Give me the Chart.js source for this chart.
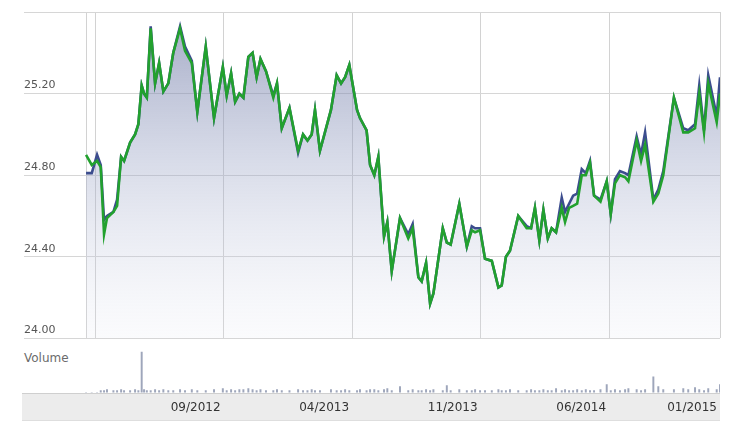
<!DOCTYPE html>
<html>
<head>
<meta charset="utf-8">
<script src="https://cdn.jsdelivr.net/npm/chart.js@4/dist/chart.umd.min.js"></script>
<style>
  body { margin: 0; background: #fff; width: 740px; height: 422px; overflow: hidden; position: relative; font-family: "DejaVu Sans", sans-serif; }
  canvas { position: absolute; left: 0; }
  #precos { top: 0; }
  #volume { top: 345px; }
  #faixa { position: absolute; left: 22px; top: 393px; width: 698px; height: 26px; background: #ececec; border-top: 1px solid #cfcfcf; border-bottom: 1px solid #dedede; }
  #rotulo { position: absolute; left: 24px; top: 351px; font-size: 12px; color: #6b6b6b; }
</style>
</head>
<body>
<div id="faixa"></div>
<div id="rotulo">Volume</div>
<canvas id="precos" width="740" height="345"></canvas>
<canvas id="volume" width="740" height="80"></canvas>
<script>
// months since 01/2012 (decimal) for each reading
const meses = [0.51,0.82,1.11,1.31,1.49,1.65,2.00,2.20,2.42,2.58,
  2.91,3.18,3.36,3.54,3.67,3.82,4.03,4.27,4.49,4.72,
  4.99,5.26,5.63,5.90,6.27,6.57,7.03,7.48,7.96,8.17,
  8.41,8.63,8.86,9.08,9.35,9.58,9.80,10.01,10.31,10.71,
  10.91,11.17,11.59,12.06,12.33,12.57,12.80,12.98,13.25,13.85,
  14.16,14.40,14.62,14.85,15.27,15.43,15.79,15.98,16.21,16.43,
  16.74,16.92,17.16,17.61,18.06,18.30,18.61,18.79,19.03,19.25,
  19.43,19.94,20.16,20.37,20.84,21.25,21.52,21.70,21.97,22.24,
  22.61,22.97,23.15,23.38,23.60,24.05,24.51,24.75,24.96,25.20,
  25.42,25.66,25.87,26.11,26.42,26.60,26.82,27.04,27.26,27.51,
  27.73,27.96,28.18,28.53,28.87,29.09,29.32,29.59,29.87,30.05,
  30.50,30.74,30.96,31.41,31.68,31.95,32.53,33.04,33.31,33.68,
  33.91,34.17,34.40,34.86,35.04];

const serieVerde = [24.90,24.85,24.87,24.84,24.51,24.59,24.62,24.65,24.89,24.87,
  24.96,25.00,25.05,25.24,25.20,25.18,25.52,25.25,25.35,25.21,
  25.25,25.40,25.52,25.41,25.35,25.11,25.43,25.08,25.33,25.19,
  25.30,25.16,25.20,25.18,25.38,25.40,25.28,25.37,25.31,25.18,
  25.25,25.03,25.13,24.92,25.00,24.97,25.00,25.12,24.92,25.12,
  25.29,25.25,25.28,25.34,25.12,25.08,25.02,24.85,24.80,24.89,
  24.50,24.57,24.33,24.59,24.49,24.54,24.30,24.28,24.37,24.17,
  24.22,24.54,24.47,24.46,24.66,24.45,24.53,24.52,24.53,24.39,
  24.38,24.25,24.26,24.40,24.43,24.60,24.54,24.54,24.64,24.48,
  24.63,24.49,24.54,24.52,24.64,24.57,24.64,24.65,24.66,24.80,
  24.80,24.86,24.70,24.67,24.77,24.61,24.76,24.80,24.79,24.77,
  24.97,24.87,24.95,24.67,24.71,24.80,25.18,25.01,25.01,25.03,
  25.20,25.01,25.25,25.06,25.20];

const serieAzul = [24.81,24.81,24.90,24.85,24.58,24.60,24.62,24.68,24.89,24.87,
  24.96,25.00,25.05,25.24,25.20,25.18,25.53,25.25,25.35,25.21,
  25.25,25.40,25.53,25.43,25.36,25.11,25.43,25.08,25.33,25.19,
  25.30,25.16,25.20,25.18,25.38,25.40,25.28,25.37,25.31,25.19,
  25.25,25.03,25.13,24.91,25.00,24.97,25.00,25.12,24.92,25.12,
  25.29,25.25,25.28,25.34,25.12,25.08,25.02,24.85,24.80,24.89,
  24.50,24.57,24.33,24.59,24.51,24.56,24.30,24.28,24.37,24.17,
  24.22,24.54,24.47,24.46,24.66,24.45,24.55,24.54,24.54,24.39,
  24.38,24.25,24.26,24.40,24.43,24.60,24.55,24.54,24.64,24.48,
  24.63,24.49,24.54,24.52,24.69,24.62,24.66,24.70,24.71,24.83,
  24.81,24.87,24.70,24.68,24.77,24.61,24.78,24.82,24.81,24.80,
  24.99,24.90,25.01,24.68,24.73,24.82,25.18,25.03,25.02,25.05,
  25.24,25.02,25.29,25.09,25.28];

const volumes = [0,0,0,2,2,3,2,2,3,2,
  2,3,2,41,3,2,2,3,2,3,
  2,2,3,2,3,2,2,3,4,2,
  3,2,3,3,4,3,2,3,2,2,
  3,2,2,3,2,2,3,2,2,3,
  2,2,3,2,2,3,2,3,3,2,
  3,4,2,6,2,3,2,2,3,2,
  3,2,7,2,3,2,2,3,2,2,
  2,3,2,2,3,2,2,3,2,2,
  3,2,2,4,2,3,2,2,3,2,
  3,2,2,3,8,2,3,2,3,4,
  3,2,3,16,6,3,3,4,3,5,
  3,2,4,3,8];

// vertical grid months and the labels under them
const mesesGrade = [1, 8, 15, 22, 29];
const mesesRotulo = [8, 15, 22, 29, 36];
const rotulosX = ['09/2012', '04/2013', '11/2013', '06/2014', '01/2015'];
const ticksY = [24.0, 24.4, 24.8, 25.2, 25.6];

const xMin = -2.87;
const xMax = 35.04;

Chart.defaults.font.family = '"DejaVu Sans", sans-serif';

function pontos(valores) {
  return meses.map((m, i) => ({ x: m, y: valores[i] }));
}

var ctx = document.getElementById('precos').getContext('2d');
var precos = new Chart(ctx, {
  type: 'line',
  data: {
    datasets: [{
      label: 'Verde',
      data: pontos(serieVerde),
      borderColor: '#22a12e',
      borderWidth: 2.6,
      pointRadius: 0,
      tension: 0,
      fill: false
    }, {
      label: 'Azul',
      data: pontos(serieAzul),
      borderColor: '#3c4d8e',
      borderWidth: 2.6,
      pointRadius: 0,
      tension: 0,
      fill: 'start',
      backgroundColor: function (c) {
        const area = c.chart.chartArea;
        if (!area) return 'rgba(170,176,200,0.5)';
        const g = c.chart.ctx.createLinearGradient(0, area.top, 0, area.bottom);
        g.addColorStop(0, 'rgba(105,115,160,0.62)');
        g.addColorStop(0.45, 'rgba(150,160,195,0.38)');
        g.addColorStop(1, 'rgba(225,228,240,0.15)');
        return g;
      }
    }]
  },
  options: {
    responsive: false,
    animation: false,
    layout: { padding: { left: 24, right: 20, top: 12, bottom: 6 } },
    plugins: { legend: { display: false }, tooltip: { enabled: false } },
    scales: {
      x: {
        type: 'linear',
        min: xMin,
        max: xMax,
        afterBuildTicks: function (axis) {
          axis.ticks = [meses[0]].concat(mesesGrade, [xMax]).map(v => ({ value: v }));
        },
        ticks: { display: false },
        grid: { color: '#d2d2d2', drawTicks: false },
        border: { display: false }
      },
      y: {
        min: 24,
        max: 25.6,
        afterBuildTicks: function (axis) {
          axis.ticks = ticksY.map(v => ({ value: v }));
        },
        ticks: {
          mirror: true,
          padding: 0,
          labelOffset: -8,
          color: '#555',
          font: { size: 11 },
          callback: function (v) { return v >= 25.6 ? '' : v.toFixed(2); }
        },
        grid: { color: '#d6d6d6', drawTicks: false },
        border: { display: false }
      }
    }
  }
});

var ctx2 = document.getElementById('volume').getContext('2d');
var volume = new Chart(ctx2, {
  type: 'bar',
  data: {
    datasets: [{
      label: 'Volume',
      data: pontos(volumes),
      backgroundColor: '#9ea6bb',
      barThickness: 1.3
    }]
  },
  options: {
    responsive: false,
    animation: false,
    layout: { padding: { left: 24, right: 20, top: 5, bottom: 2 } },
    plugins: { legend: { display: false }, tooltip: { enabled: false } },
    scales: {
      x: {
        type: 'linear',
        offset: false,
        min: xMin,
        max: xMax,
        afterBuildTicks: function (axis) {
          axis.ticks = mesesRotulo.map(v => ({ value: Math.min(v, xMax) }));
        },
        ticks: {
          align: 'end',
          labelOffset: -3,
          padding: 8,
          maxRotation: 0,
          autoSkip: false,
          color: '#333',
          font: { size: 12 },
          callback: function (v, i) { return rotulosX[i]; }
        },
        grid: { display: false, drawTicks: false },
        border: { display: false }
      },
      y: { display: false, min: 0, max: 43 }
    }
  }
});
</script>
</body>
</html>
